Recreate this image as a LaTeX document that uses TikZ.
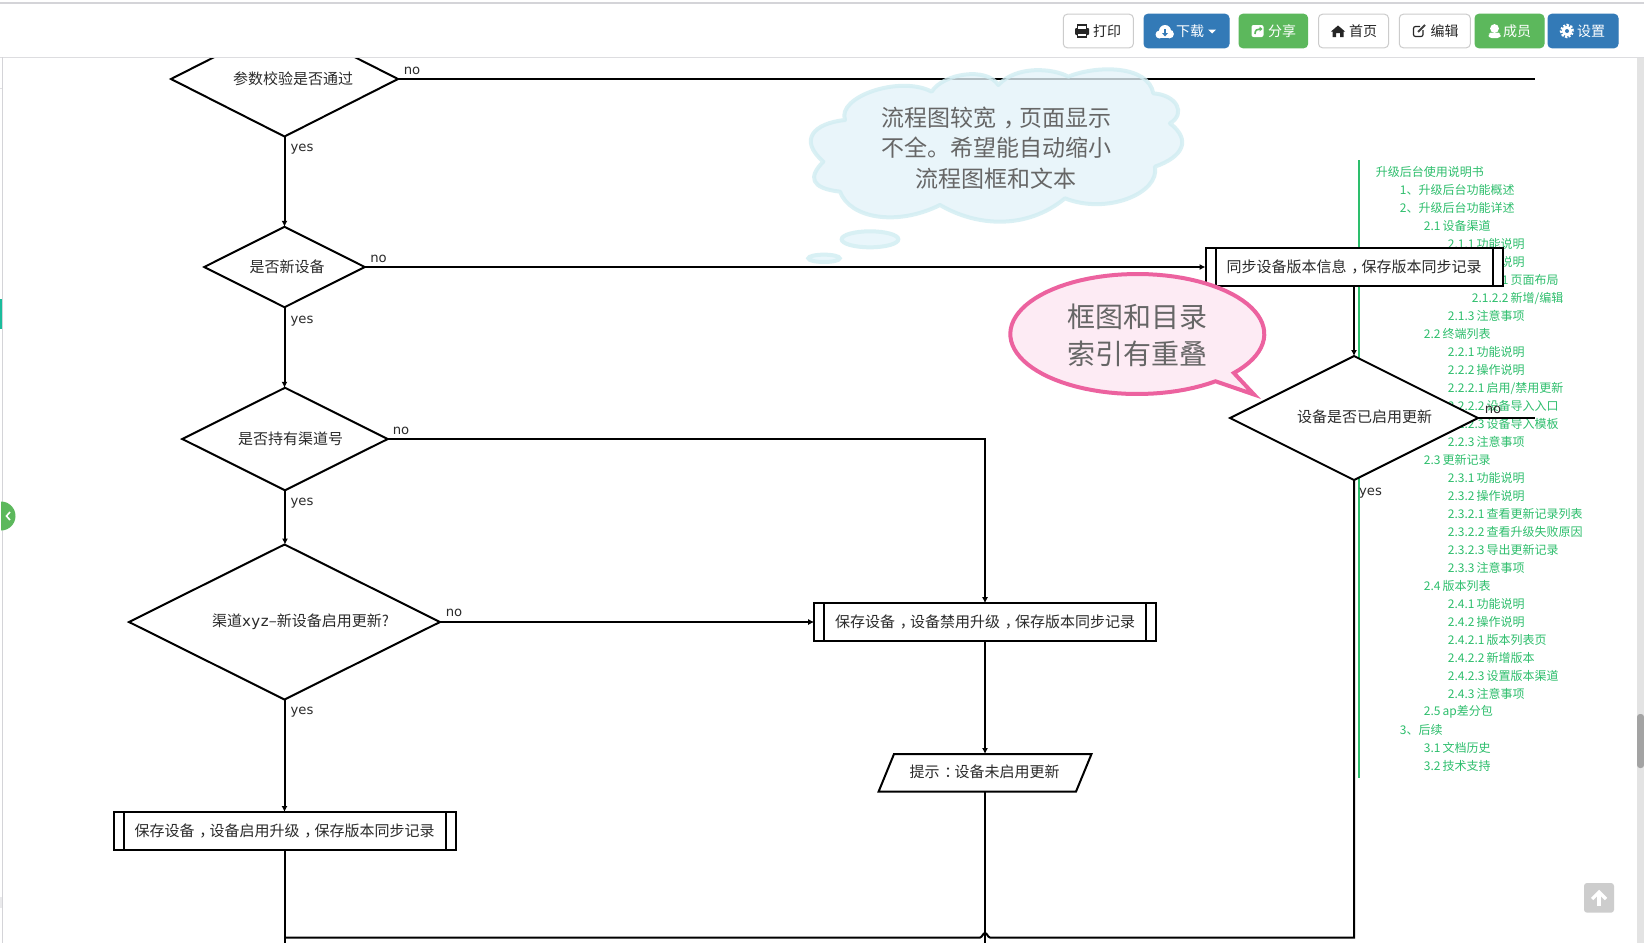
\documentclass[tikz,border=0pt]{standalone}
\usepackage{fontspec}
\setmainfont{Noto Sans CJK SC}
\newfontfamily\cjk{Noto Sans CJK SC}
\newfontfamily\tocfont[WordSpace=0.75]{Noto Sans CJK SC}
\newfontfamily\dejav{DejaVu Sans}
\usetikzlibrary{shapes.geometric,arrows.meta}
\definecolor{tocgreen}{HTML}{2DBE6C}
\definecolor{inkc}{HTML}{2B2B2B}
\definecolor{btnblue}{HTML}{337AB7}
\definecolor{btngreen}{HTML}{5CB85C}
\definecolor{btnline}{HTML}{CCCCCC}
\definecolor{cloudline}{HTML}{D0EDF2}
\definecolor{cloudfill}{HTML}{E3F3F9}
\definecolor{thoughtline}{HTML}{D8F0F4}
\definecolor{thoughtfill}{HTML}{E9F6FB}
\definecolor{pinkline}{HTML}{EC629F}
\definecolor{pinkfill}{HTML}{FDEBF4}
\definecolor{notegrey}{HTML}{666666}
\definecolor{chromeline}{HTML}{D4D4D8}
\definecolor{tealbar}{HTML}{1ABC9C}
\definecolor{scrolltrack}{HTML}{E3E3E3}
\definecolor{scrollthumb}{HTML}{A3A3A3}
\definecolor{upbtn}{HTML}{CDCDCD}
% full-width punctuation set in the middle of its cell, as the reference prints it
\newcommand{\midcomma}{\makebox[1em][l]{\hspace{.32em}，}}
\newcommand{\midcolon}{\makebox[1em][l]{\hspace{.32em}：}}
\tikzset{
  flowline/.style={draw=black,line width=1pt},
  arrowline/.style={flowline,-{Latex[length=3pt,width=3pt]}},
  decision/.style={diamond,draw=black,line width=1pt,fill=white,inner sep=0pt,outer sep=0pt},
  procbox/.style={rectangle,draw=black,line width=1pt,fill=white,inner sep=0pt,outer sep=0pt},
  flowtext/.style={font=\cjk\fontsize{7.5}{9}\selectfont,text=inkc,inner sep=0pt},
  branchtext/.style={font=\dejav\fontsize{6.6}{8}\selectfont,text=inkc,inner sep=0pt},
  toctext/.style={font=\tocfont\fontsize{6}{8}\selectfont,text=tocgreen,inner sep=0pt,anchor=west},
  notetext/.style={align=center,text=notegrey,inner sep=0pt},
  btnplain/.style={rectangle,rounded corners=2pt,draw=btnline,line width=.5pt,fill=white},
  btnprim/.style={rectangle,rounded corners=2pt,draw=btnblue,line width=.5pt,fill=btnblue},
  btnok/.style={rectangle,rounded corners=2pt,draw=btngreen,line width=.5pt,fill=btngreen},
  btntext/.style={font=\cjk\fontsize{7}{8}\selectfont,inner sep=0pt},
}
\begin{document}
\begin{tikzpicture}[x=0.5pt,y=-0.5pt]
\useasboundingbox (0,0) rectangle (1644,943);
\clip (0,0) rectangle (1644,943);
\fill[white] (0,0) rectangle (1644,943);

% table of contents (underneath the flowchart)
\draw[tocgreen,line width=1pt] (1358.5,160) -- (1358.5,778);
\foreach \lvl/\txt [count=\i from 0] in {
 0/升级后台使用说明书, 1/1、升级后台功能概述, 1/2、升级后台功能详述, 2/2.1 设备渠道,
 3/2.1.1 功能说明, 3/2.1.2 操作说明, 4/2.1.2.1 页面布局, 4/{2.1.2.2 新增/编辑}, 3/2.1.3 注意事项,
 2/2.2 终端列表, 3/2.2.1 功能说明, 3/2.2.2 操作说明, 3/{2.2.2.1 启用/禁用更新}, 3/2.2.2.2 设备导入入口,
 3/2.2.2.3 设备导入模板, 3/2.2.3 注意事项, 2/2.3 更新记录, 3/2.3.1 功能说明, 3/2.3.2 操作说明,
 3/2.3.2.1 查看更新记录列表, 3/2.3.2.2 查看升级失败原因, 3/2.3.2.3 导出更新记录, 3/2.3.3 注意事项,
 2/2.4 版本列表, 3/2.4.1 功能说明, 3/2.4.2 操作说明, 3/2.4.2.1 版本列表页, 3/2.4.2.2 新增版本,
 3/2.4.2.3 设置版本渠道, 3/2.4.3 注意事项, 2/2.5 ap差分包, 1/3、后续, 2/3.1 文档历史, 2/3.2 技术支持}
{
  \pgfmathsetmacro{\xx}{1375.5+24*\lvl}
  \pgfmathsetmacro{\yy}{172.4+17.98*\i}
  \node[toctext] (toc\i) at (\xx,\yy) {\txt};
}

% flowchart nodes
\node[decision,minimum width=113.5pt,minimum height=57.5pt] (d1) at (284.5,79) {};
\node[decision,minimum width=80.25pt,minimum height=40.25pt] (d2) at (284.5,267) {};
\node[decision,minimum width=102.75pt,minimum height=51.25pt] (d3) at (285,439) {};
\node[decision,minimum width=155.5pt,minimum height=77.5pt] (d4) at (284.5,622) {};
\node[decision,minimum width=124pt,minimum height=62pt] (d5) at (1354,418) {};
\node[procbox,minimum width=170.8pt,minimum height=18.8pt] (b1) at (985,622) {};
\node[procbox,minimum width=170.8pt,minimum height=19pt] (b2) at (285,831) {};
\node[procbox,minimum width=148.5pt,minimum height=19pt] (b3) at (1354,267) {};
\draw[flowline] ([xshift=5pt]b1.north west) -- ([xshift=5pt]b1.south west)
                ([xshift=-5pt]b1.north east) -- ([xshift=-5pt]b1.south east)
                ([xshift=5pt]b2.north west) -- ([xshift=5pt]b2.south west)
                ([xshift=-5pt]b2.north east) -- ([xshift=-5pt]b2.south east)
                ([xshift=5pt]b3.north west) -- ([xshift=5pt]b3.south west)
                ([xshift=-5pt]b3.north east) -- ([xshift=-5pt]b3.south east);
\coordinate (pT) at (985,754);
\coordinate (pB) at (985,791.6);
\draw[flowline,fill=white] (894,754) -- (1091.5,754) -- (1076,791.6) -- (878.6,791.6) -- cycle;

% flowchart text
\node[flowtext] (t1) at (293,79) {参数校验是否通过};
\node[flowtext] (t2) at (287,267) {是否新设备};
\node[flowtext] (t3) at (290.6,439) {是否持有渠道号};
\node[flowtext] (t4) at (300.5,622) {渠道{\dejav x\kern.3pt y\kern.3pt z}–新设备启用更新?};
\node[flowtext] (t5) at (1364.6,417) {设备是否已启用更新};
\node[flowtext] (t6) at (985,621.5) {保存设备\midcomma 设备禁用升级\midcomma 保存版本同步记录};
\node[flowtext] (t7) at (284.5,830.5) {保存设备\midcomma 设备启用升级\midcomma 保存版本同步记录};
\node[flowtext] (t8) at (1354,267) {同步设备版本信息\midcomma 保存版本同步记录};
\node[flowtext] (t9) at (984.5,772) {提示\midcolon 设备未启用更新};

% connectors
\coordinate (d1end) at (1535,79);
\coordinate (d5end) at (1535,418);
\coordinate (bot1) at (284.5,943);
\coordinate (bot2) at (985,943);
\coordinate (c3) at (985,439);
\coordinate (c5) at (1354,937.5);
\coordinate (c6) at (284.5,937.5);
\draw[flowline] (d1.east) -- (d1end);
\draw[arrowline] (d1.south) -- (d2.north);
\draw[arrowline] (d2.south) -- (d2.south |- d3.north);
\draw[arrowline] (d2.east) -- (b3.west);
\draw[arrowline] (d3.south) -- (d3.south |- d4.north);
\draw[arrowline] (d3.east) -- (c3) -- (b1.north);
\draw[arrowline] (d4.east) -- (b1.west);
\draw[arrowline] (d4.south) -- (d4.south |- b2.north);
\draw[arrowline] (b1.south) -- (pT);
\draw[arrowline] (b3.south) -- (d5.north);
\draw[flowline] (d5.east) -- (d5end);
\draw[flowline] (d4.south |- b2.south) -- (bot1);
\draw[flowline] (pB) -- (bot2);
\draw[flowline] (c6) -- (980,937.5) .. controls (982,937.5) and (983,933) .. (985,933) .. controls (987,933) and (988,937.5) .. (990,937.5) -- (c5) -- (d5.south);

% branch labels
\node[branchtext] (l1) at (412,71) {no};
\node[branchtext] (l2) at (302,149.5) {yes};
\node[branchtext] (l3) at (378.5,259) {no};
\node[branchtext] (l4) at (302,321.5) {yes};
\node[branchtext] (l5) at (401,431) {no};
\node[branchtext] (l6) at (302,503.5) {yes};
\node[branchtext] (l7) at (454,613) {no};
\node[branchtext] (l8) at (302,712.5) {yes};
\node[branchtext] (l9) at (1493,410) {no};
\node[branchtext] (l10) at (1370.5,493) {yes};

% page chrome
\fill[white] (0,3) rectangle (1644,57);
\fill[chromeline] (0,2) rectangle (1644,3.5);
\fill[chromeline!80] (0,56.5) rectangle (1644,57.5);
\fill[chromeline] (2,57) rectangle (3.2,943);
\fill[chromeline!70] (0,88) rectangle (2,89);
\fill[chromeline!50] (0,897) rectangle (2,908);
\fill[tealbar] (0,299) rectangle (2,329);
\fill[btngreen] (1,501.5) arc[start angle=90,end angle=-90,radius=7.25pt] -- cycle;
\draw[white,line width=.8pt] (10,512) -- (6.5,516) -- (10,520);
\fill[scrolltrack] (1637,58) rectangle (1644,943);
\fill[scrollthumb,rounded corners=1.5pt] (1637,714) rectangle (1644,768);
\fill[upbtn,rounded corners=1.5pt] (1584,883) rectangle (1614,912.7);
\draw[white,line width=1.6pt] (1599,906) -- (1599,892);
\draw[white,line width=1.6pt] (1592,899) -- (1599,892) -- (1606,899);

% toolbar buttons
\node[btnplain,minimum width=35pt,minimum height=16.8pt,inner sep=0pt] (bPrint) at (1098.3,31) {};
\node[btnprim,minimum width=42.5pt,minimum height=16.8pt,inner sep=0pt] (bDown) at (1186.5,31) {};
\node[btnok,minimum width=34.3pt,minimum height=16.8pt,inner sep=0pt] (bShare) at (1273.3,31) {};
\node[btnplain,minimum width=35pt,minimum height=16.8pt,inner sep=0pt] (bHome) at (1353.5,31) {};
\node[btnplain,minimum width=35.5pt,minimum height=16.8pt,inner sep=0pt] (bEdit) at (1434.8,31) {};
\node[btnok,minimum width=34.5pt,minimum height=16.8pt,inner sep=0pt] (bUser) at (1509.5,31) {};
\node[btnprim,minimum width=35pt,minimum height=16.8pt,inner sep=0pt] (bSet) at (1583,31) {};
\node[btntext,text=black!85] (tPrint) at (1107,31) {打印};
\node[btntext,text=white] (tDown) at (1190,31) {下载};
\node[btntext,text=white] (tShare) at (1282,31) {分享};
\node[btntext,text=black!85] (tHome) at (1363,31) {首页};
\node[btntext,text=black!85] (tEdit) at (1444.5,31) {编辑};
\node[btntext,text=white] (tUser) at (1517,31) {成员};
\node[btntext,text=white] (tSet) at (1591,31) {设置};
% printer icon
\fill[black!85,rounded corners=.5pt] (1075,28) rectangle (1089,35);
\draw[black!85,line width=.6pt,fill=white] (1077.5,25) rectangle (1086.5,30);
\draw[black!85,line width=.6pt,fill=white] (1077.5,33) rectangle (1086.5,37);
% cloud icon
\fill[white] (1159.5,34.5) circle[radius=2pt] (1165,31) circle[radius=3pt] (1169.5,34) circle[radius=2.2pt];
\fill[white] (1159.5,34) rectangle (1170,37.5);
\draw[btnblue,line width=.7pt] (1165,29) -- (1165,34.5);
\fill[btnblue] (1162,33) -- (1168,33) -- (1165,36.5) -- cycle;
% caret
\fill[white] (1208,29.5) -- (1216,29.5) -- (1212,33.5) -- cycle;
% share icon
\fill[white,rounded corners=1pt] (1251.5,25) rectangle (1263.5,37);
\draw[btngreen,line width=.8pt] (1255,34) .. controls (1255,30) and (1257,29) .. (1260,29);
\fill[btngreen] (1259.5,26.5) -- (1262.5,29) -- (1259.5,31.5) -- cycle;
% home icon
\fill[black!85] (1331,31.5) -- (1338,25.5) -- (1345,31.5) -- (1343.5,31.5) -- (1343.5,37) -- (1340,37) -- (1340,33) -- (1336,33) -- (1336,37) -- (1332.5,37) -- (1332.5,31.5) -- cycle;
% edit icon
\draw[black!85,line width=.6pt,rounded corners=1pt] (1423,30) -- (1423,36.5) -- (1413.5,36.5) -- (1413.5,26.5) -- (1420,26.5);
\draw[black!75,line width=1pt] (1418,32) -- (1425,25);
% user icon
\fill[white] (1494.5,28.5) circle[radius=2.2pt];
\fill[white,rounded corners=1.5pt] (1488.5,38) -- (1488.5,34) -- (1491,32.5) -- (1498,32.5) -- (1500.5,34) -- (1500.5,38) -- cycle;
% gear icon
\draw[white,line width=1.6pt,dash pattern=on 1pt off .7pt] (1567,31) circle[radius=2.8pt];
\fill[white] (1567,31) circle[radius=2.6pt];
\fill[btnblue] (1567,31) circle[radius=1pt];

% cloud note
\begin{scope}[shift={(790,60)},xscale=.3333,yscale=.3333]
\coordinate (k1) at (165,180);
\coordinate (k2) at (425,95);
\coordinate (k3) at (625,75);
\coordinate (k4) at (835,50);
\coordinate (k5) at (1090,100);
\coordinate (k6) at (1140,190);
\coordinate (k7) at (1095,320);
\coordinate (k8) at (825,415);
\coordinate (k9) at (450,435);
\coordinate (k10) at (150,395);
\coordinate (k11) at (100,305);
\path[fill=cloudfill,draw=cloudline,line width=2pt,opacity=.78,line join=round]
 (k1) .. controls (140,110) and (330,45) .. (k2)
 .. controls (460,40) and (590,20) .. (k3)
 .. controls (680,15) and (790,25) .. (k4)
 .. controls (920,15) and (1075,15) .. (k5)
 .. controls (1160,105) and (1190,160) .. (k6)
 .. controls (1205,240) and (1180,290) .. (k7)
 .. controls (1110,400) and (950,465) .. (k8)
 .. controls (710,510) and (560,500) .. (k9)
 .. controls (320,500) and (180,475) .. (k10)
 .. controls (60,385) and (55,350) .. (k11)
 .. controls (25,240) and (70,190) .. (k1) -- cycle;
\path[fill=thoughtfill,draw=thoughtline,line width=2pt] (240,538) ellipse[x radius=85,y radius=24];
\path[fill=thoughtfill,draw=thoughtline,line width=2pt] (102,595) ellipse[x radius=47,y radius=11];
\end{scope}
\node[notetext,font=\cjk\fontsize{11.5}{14}\selectfont] (n1a) at (996,117.5) {流程图较宽\midcomma 页面显示};
\node[notetext,font=\cjk\fontsize{11.5}{14}\selectfont] (n1b) at (996,147.5) {不全。希望能自动缩小};
\node[notetext,font=\cjk\fontsize{11.5}{14}\selectfont] (n1c) at (996,178.5) {流程图框和文本};

% pink note
\path[fill=pinkfill,draw=pinkline,line width=2pt,line join=miter]
  plot[domain=52:400.5,samples=90] ({1137.3+127*cos(\x)},{334+60*sin(\x)}) -- (1254,394.5) -- cycle;
\node[notetext,font=\cjk\fontsize{14}{17}\selectfont] (n2a) at (1137,316.5) {框图和目录};
\node[notetext,font=\cjk\fontsize{14}{17}\selectfont] (n2b) at (1137,353.5) {索引有重叠};
\end{tikzpicture}
\end{document}
